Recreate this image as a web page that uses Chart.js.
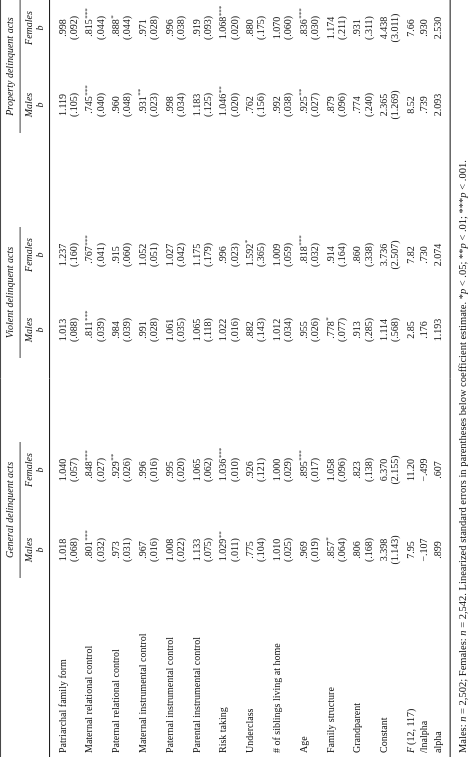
<!DOCTYPE html>
<html>
<head>
<meta charset="utf-8">
<script src="https://cdn.jsdelivr.net/npm/chart.js@4/dist/chart.umd.min.js"></script>
<style>
  html, body { margin: 0; padding: 0; background: #fff; overflow: hidden; }
  #wrap { position: absolute; left: 0; top: 0; width: 757px; height: 474px;
          transform-origin: 0 0; transform: translateY(757px) rotate(-90deg); }
</style>
</head>
<body>
<div id="wrap"><canvas id="out" width="757" height="474"></canvas></div>
<script>
// table content (rotated table)
const rowLabels = [
  "Patriarchal family form", "Maternal relational control", "Paternal relational control",
  "Maternal instrumental control", "Paternal instrumental control", "Parental instrumental control",
  "Risk taking", "Underclass", "# of siblings living at home", "Age", "Family structure",
  "Grandparent", "Constant", "F (12, 117)", "/lnalpha", "alpha"
];
const groups = ["General delinquent acts", "Violent delinquent acts", "Property delinquent acts"];
const columnHeads = ["Males", "Females", "Males", "Females", "Males", "Females"];

const generalMalesB   = ["1.018", ".801***", ".973", ".967", "1.008", "1.133", "1.029**", ".775", "1.010", ".969", ".857*", ".806", "3.398", "7.95", "\u2212.107", ".899"];
const generalMalesSe  = ["(.068)", "(.032)", "(.031)", "(.016)", "(.022)", "(.075)", "(.011)", "(.104)", "(.025)", "(.019)", "(.064)", "(.168)", "(1.143)"];
const generalFemB     = ["1.040", ".848***", ".929**", ".996", ".995", "1.065", "1.036***", ".926", "1.000", ".895***", "1.058", ".823", "6.370", "11.20", "\u2212.499", ".607"];
const generalFemSe    = ["(.057)", "(.027)", "(.026)", "(.016)", "(.020)", "(.062)", "(.010)", "(.121)", "(.029)", "(.017)", "(.096)", "(.138)", "(2.155)"];
const violentMalesB   = ["1.013", ".811***", ".984", ".991", "1.061", "1.065", "1.022", ".882", "1.012", ".955", ".778*", ".913", "1.114", "2.85", ".176", "1.193"];
const violentMalesSe  = ["(.088)", "(.039)", "(.039)", "(.028)", "(.035)", "(.118)", "(.016)", "(.143)", "(.034)", "(.026)", "(.077)", "(.285)", "(.568)"];
const violentFemB     = ["1.237", ".767***", ".915", "1.052", "1.027", "1.175", ".996", "1.592*", "1.009", ".818***", ".914", ".860", "3.736", "7.82", ".730", "2.074"];
const violentFemSe    = ["(.160)", "(.041)", "(.060)", "(.051)", "(.042)", "(.179)", "(.023)", "(.365)", "(.059)", "(.032)", "(.164)", "(.338)", "(2.507)"];
const propertyMalesB  = ["1.119", ".745***", ".960", ".931**", ".998", "1.183", "1.046**", ".762", ".992", ".925**", ".879", ".774", "2.365", "8.52", ".739", "2.093"];
const propertyMalesSe = ["(.105)", "(.040)", "(.048)", "(.023)", "(.034)", "(.125)", "(.020)", "(.156)", "(.038)", "(.027)", "(.096)", "(.240)", "(1.269)"];
const propertyFemB    = [".998", ".815***", ".888*", ".971", ".996", ".919", "1.068***", ".880", "1.070", ".836***", "1.174", ".931", "4.438", "7.66", ".930", "2.530"];
const propertyFemSe   = ["(.092)", "(.044)", "(.044)", "(.028)", "(.038)", "(.093)", "(.020)", "(.175)", "(.060)", "(.030)", "(.211)", "(.311)", "(3.011)"];

const columnsB  = [generalMalesB, generalFemB, violentMalesB, violentFemB, propertyMalesB, propertyFemB];
const columnsSe = [generalMalesSe, generalFemSe, violentMalesSe, violentFemSe, propertyMalesSe, propertyFemSe];

// layout: column centres (page px) and row slots
const colX = [207, 287, 427, 502, 652, 729];
const rowSlot = rowLabels.map((_, i) => i < 13 ? i : 13 + (i - 13) * 0.5);

const points = [];
columnsB.forEach((col, c) => col.forEach((v, r) => points.push({ x: colX[c], y: rowSlot[r], t: v, se: columnsSe[c][r] })));

const serif = "'Liberation Serif', 'DejaVu Serif', serif";

function drawValue(ctx, text, x, y) {
  const m = text.match(/^([^*]*)(\**)$/);
  const base = m[1], stars = m[2];
  ctx.font = "10px " + serif;
  ctx.textAlign = "center";
  ctx.fillText(base, x, y);
  if (stars) {
    const w = ctx.measureText(base).width;
    ctx.font = "7px " + serif;
    ctx.textAlign = "left";
    ctx.fillText(stars, x + w / 2 + 0.5, y - 3);
  }
}

const tablePlugin = {
  id: "tableText",
  afterDatasetsDraw(chart) {
    const ctx = chart.ctx, xs = chart.scales.x, ys = chart.scales.y;
    const py = v => ys.getPixelForValue(v);
    ctx.save();
    ctx.fillStyle = "#111";
    ctx.strokeStyle = "#111";
    ctx.textBaseline = "middle";

    // rules
    ctx.lineWidth = 1;
    [[py(-2.33), 0.8], [py(-0.5), 1], [py(14.45), 1]].forEach(([y, w]) => {
      ctx.lineWidth = w;
      ctx.beginPath(); ctx.moveTo(0, y); ctx.lineTo(757, y); ctx.stroke();
    });

    // group headings
    ctx.font = "italic 10px " + serif;
    ctx.textAlign = "center";
    groups.forEach((g, i) => {
      const x0 = xs.getPixelForValue(colX[i * 2]), x1 = xs.getPixelForValue(colX[i * 2 + 1]);
      ctx.fillText(g, (x0 + x1) / 2, py(-1.98));
      ctx.lineWidth = 0.8;
      ctx.beginPath(); ctx.moveTo(x0 - 28, py(-1.6)); ctx.lineTo(x1 + 28, py(-1.6)); ctx.stroke();
    });
    columnHeads.forEach((h, i) => {
      const x = xs.getPixelForValue(colX[i]);
      ctx.fillText(h, x, py(-1.25));
      ctx.fillText("b", x, py(-0.85));
    });

    // row labels
    ctx.font = "10px " + serif;
    ctx.textAlign = "left";
    rowLabels.forEach((l, r) => {
      const y = py(rowSlot[r]);
      if (l.startsWith("F ")) {
        ctx.font = "italic 10px " + serif; ctx.fillText("F", 4, y);
        ctx.font = "10px " + serif; ctx.fillText(l.slice(1), 4 + ctx.measureText("F").width, y);
      } else {
        ctx.fillText(l, 4, y);
      }
    });

    // cells
    points.forEach(p => {
      const x = xs.getPixelForValue(p.x), y = py(p.y);
      drawValue(ctx, p.t, x, y);
      if (p.se) {
        ctx.font = "10px " + serif; ctx.textAlign = "center";
        ctx.fillText(p.se, x, py(p.y + 0.42));
      }
    });

    // footnote
    const parts = [["Males: ", 0], ["n", 1], [" = 2,502; Females: ", 0], ["n", 1],
      [" = 2,542. Linearized standard errors in parentheses below coefficient estimate. *", 0], ["p", 1],
      [" < .05; **", 0], ["p", 1], [" < .01; ***", 0], ["p", 1], [" < .001.", 0]];
    let fx = 4;
    ctx.textAlign = "left";
    parts.forEach(([t, it]) => {
      ctx.font = (it ? "italic " : "") + "10.5px " + serif;
      ctx.fillText(t, fx, py(14.95));
      fx += ctx.measureText(t).width;
    });
    ctx.restore();
  }
};

new Chart(document.getElementById("out").getContext("2d"), {
  type: "scatter",
  data: { datasets: [{ data: points, pointRadius: 0, pointHoverRadius: 0 }] },
  options: {
    responsive: false,
    animation: false,
    events: [],
    layout: { padding: 0 },
    plugins: { legend: { display: false }, tooltip: { enabled: false } },
    scales: {
      x: { type: "linear", min: 0, max: 757, display: false },
      y: { type: "linear", min: -2.35, max: 15.34, reverse: true, display: false }
    }
  },
  plugins: [tablePlugin]
});
</script>
</body>
</html>
